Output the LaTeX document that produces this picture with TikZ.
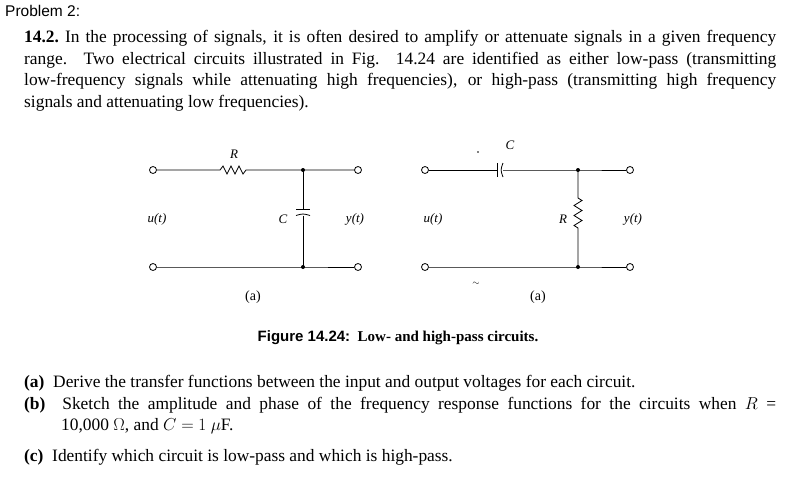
\documentclass[tikz,border=0pt]{standalone}
\usepackage{fontspec}
\setmainfont{Liberation Serif}
\newfontfamily\hsans{Liberation Sans}
\usetikzlibrary{calc}
\begin{document}
\begin{tikzpicture}[x=1pt,y=-1pt,
  txt/.style={anchor=west,inner sep=0,font=\fontsize{17.4}{18}\selectfont},
  term/.style={circle,draw,thick,fill=white,inner sep=0,minimum size=7pt},
  dotj/.style={circle,fill,inner sep=0,minimum size=4pt},
  wire/.style={thick},
  lbl/.style={font=\fontsize{13}{14}\selectfont\itshape,inner sep=1pt}]
\useasboundingbox (0,0) rectangle (789,477);
\node[anchor=west,inner sep=0,font=\hsans\fontsize{15.5}{17}\selectfont] (hd) at (5,11) {Problem 2:};
\node[txt] (l1) at (24,38) {\makebox[752pt][s]{\textbf{14.2.}\ In the processing of signals, it is often desired to amplify or attenuate signals in a given frequency}};
\node[txt] (l2) at (24,60) {\makebox[752pt][s]{range. Two electrical circuits illustrated in Fig. 14.24 are identified as either low-pass (transmitting}};
\node[txt] (l3) at (24,81) {\makebox[752pt][s]{low-frequency signals while attenuating high frequencies), or high-pass (transmitting high frequency}};
\node[txt] (l4) at (24,103) {signals and attenuating low frequencies).};
% left circuit
\node[term] (a1) at (153,170) {};
\node[term] (a2) at (153,267) {};
\node[term] (a3) at (358,170) {};
\node[term] (a4) at (358,267) {};
\coordinate (aj1) at (303,170); \coordinate (aj2) at (303,267);
\coordinate (rs) at (220,170); \coordinate (re) at (248,170);
\draw[wire] (a1) -- (rs) -- ++(3,-4) -- ++(4,8) -- ++(4,-8) -- ++(4,8) -- ++(4,-8) -- ++(4,8) -- ++(3,-4) -- (re) -- (aj1) -- (a3);
\draw[wire] (aj1) -- (303,209.5) (303,215.5) -- (aj2);
\draw[wire] (296,209.5) -- (310,209.5);
\draw[wire] (296,215.5) .. controls (303,213.5) .. (310,215.5);
\draw[wire] (a2) -- (aj2) -- (a4);
\node[dotj] at (aj1) {}; \node[dotj] at (aj2) {};
\node[lbl] (lR) at (234,154) {R};
\node[lbl] (lC) at (283,219) {C};
\node[lbl] (lu) at (157,219) {u(t)};
\node[lbl] (ly) at (355,219) {y(t)};
\node[font=\fontsize{14}{15}\selectfont] (ca) at (253,297) {(a)};
% right circuit
\node[term] (b1) at (425,170) {};
\node[term] (b2) at (425,267) {};
\node[term] (b3) at (630,170) {};
\node[term] (b4) at (630,267) {};
\coordinate (bj1) at (578,170); \coordinate (bj2) at (578,267);
\draw[wire] (b1) -- (497,170) (503,170) -- (bj1) -- (b3);
\draw[wire] (497,163) -- (497,177);
\draw[wire] (503,163) .. controls (500.5,170) .. (503,177);
\draw[wire] (bj1) -- (578,198) -- ++(4,2.5) -- ++(-8,5) -- ++(8,5) -- ++(-8,5) -- ++(8,5) -- ++(-8,5) -- ++(4,2.5) -- (bj2);
\draw[wire] (b2) -- (bj2) -- (b4);
\node[dotj] at (bj1) {}; \node[dotj] at (bj2) {};
\node[lbl] (rC) at (510,145) {C};
\node[lbl] (rR) at (563,219) {R};
\node[lbl] (ru) at (433,219) {u(t)};
\node[lbl] (ry) at (633,219) {y(t)};
\node[font=\fontsize{14}{15}\selectfont] (cb) at (538,297) {(a)};
\fill (478,152) circle (0.8);
\node[font=\fontsize{9}{10}\selectfont\bfseries] (sq) at (476,284) {$\sim$};
\node[font=\fontsize{15}{16}\selectfont] (cap) at (398,338) {{\hsans\bfseries Figure 14.24:}\ \ \textbf{Low- and high-pass circuits.}};
% questions
\node[txt] (q1) at (24,383) {\textbf{(a)}\ \ Derive the transfer functions between the input and output voltages for each circuit.};
\node[txt] (q2) at (24,405) {\makebox[752pt][s]{\textbf{(b)}\ \ Sketch the amplitude and phase of the frequency response functions for the circuits when $R$ =}};
\node[txt] (q2b) at (61,426) {10,000 $\Omega$, and $C = 1\ \mu$F.};
\node[txt] (q3) at (24,457) {\textbf{(c)}\ \ Identify which circuit is low-pass and which is high-pass.};
\end{tikzpicture}
\end{document}
